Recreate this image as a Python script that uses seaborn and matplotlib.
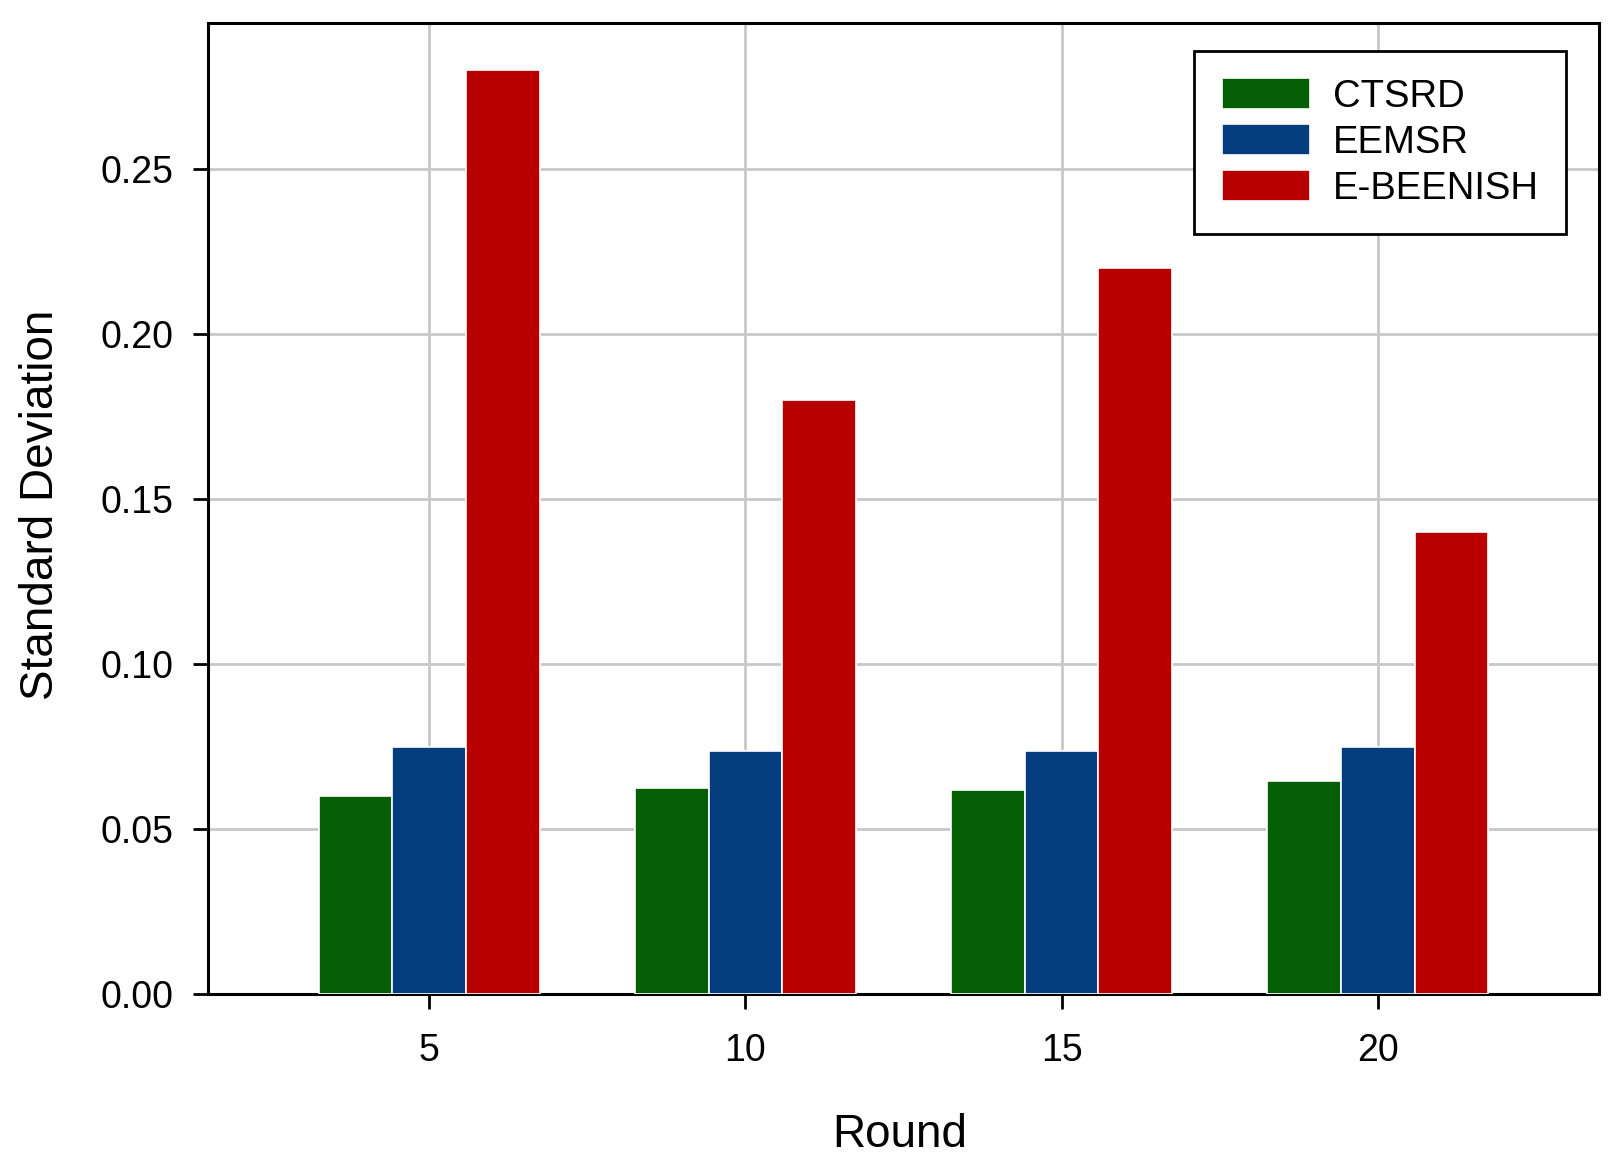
import matplotlib
matplotlib.use("Agg")
import matplotlib.pyplot as plt
import seaborn as sns
import pandas as pd

rounds = [5, 10, 15, 20]
methods = ["CTSRD", "EEMSR", "E-BEENISH"]
ctsrd = [0.060, 0.0625, 0.0617, 0.0645]
eemsr = [0.0747, 0.0735, 0.0735, 0.0747]
ebeenish = [0.28, 0.18, 0.22, 0.14]
colors = ["#045e04", "#033d7e", "#b80000"]
yticks = [0.00, 0.05, 0.10, 0.15, 0.20, 0.25]

rows = []
for m, vals in zip(methods, [ctsrd, eemsr, ebeenish]):
    for r, v in zip(rounds, vals):
        rows.append({"Round": r, "Method": m, "Value": v})
df = pd.DataFrame(rows)

sns.set_theme(style="ticks")
plt.rcParams["font.family"] = ["Liberation Sans", "DejaVu Sans"]
plt.rcParams["text.color"] = "black"
plt.rcParams["axes.labelcolor"] = "black"

W, H = 1623, 1168
fig = plt.figure(figsize=(W / 100, H / 100), dpi=100)
L, R, T, B = 208, 1599, 23, 994
ax = fig.add_axes([L / W, (H - B) / H, (R - L) / W, (B - T) / H])

sns.barplot(data=df, x="Round", y="Value", hue="Method", hue_order=methods,
            palette=colors, native_scale=True, width=0.7, saturation=1,
            edgecolor="white", linewidth=1.2, ax=ax, zorder=3, legend=True)

ax.set_xlim(1.5, 23.5)
ax.set_ylim(0, 0.2942)
ax.set_xticks(rounds)
ax.set_xticklabels([str(r) for r in rounds])
ax.set_yticks(yticks)
ax.set_yticklabels([f"{v:.2f}" for v in yticks])
ax.grid(True, color="#c8c8c8", linewidth=2, zorder=0)
ax.set_axisbelow(True)
for s in ax.spines.values():
    s.set_visible(True)
    s.set_linewidth(2.2)
    s.set_color("black")
ax.tick_params(axis="both", labelsize=27, length=11, width=2, colors="black",
               labelcolor="black")
ax.tick_params(axis="y", pad=14)
ax.tick_params(axis="x", pad=17)

ax.set_xlabel("Round", fontsize=33, color="black")
ax.set_ylabel("Standard Deviation", fontsize=33, color="black")
ax.xaxis.set_label_coords(0.4975, -0.1225)
ax.yaxis.set_label_coords(-0.104, 0.5036)

leg = ax.legend(loc="upper right", bbox_to_anchor=(0.9763, 0.9712),
                borderaxespad=0, fontsize=27.5, frameon=True, fancybox=False,
                handlelength=2.3, handleheight=0.85, handletextpad=0.6,
                labelspacing=0.25, borderpad=0.72, title=None)
leg.get_frame().set_edgecolor("black")
leg.get_frame().set_linewidth(2)
leg.get_frame().set_alpha(1)
for t in leg.get_texts():
    t.set_color("black")

fig.savefig("out.png", dpi=100)
